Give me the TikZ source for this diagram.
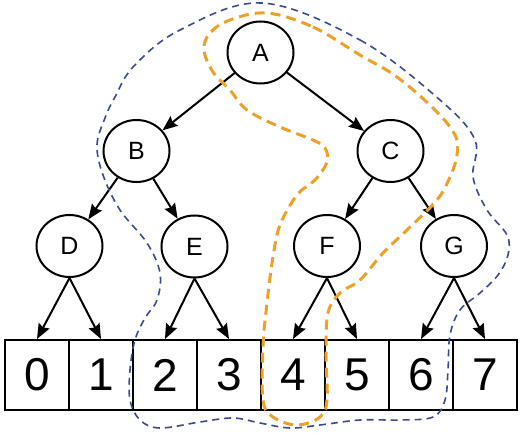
\documentclass[tikz,border=0pt]{standalone}
\usepackage{fontspec}
\setmainfont{Liberation Sans}
\usetikzlibrary{shapes.geometric,arrows.meta}
\definecolor{cblue}{HTML}{3C4A94}
\definecolor{corange}{HTML}{F0A028}
\begin{document}
\begin{tikzpicture}[x=1pt,y=-1pt,
  tnode/.style={ellipse,draw,line width=2pt,minimum width=66pt,minimum height=62pt,inner sep=0pt,font=\fontsize{25}{25}\selectfont},
  cell/.style={rectangle,draw,line width=2pt,minimum width=64pt,minimum height=70pt,inner sep=0pt,font=\fontsize{46}{46}\selectfont},
  edge/.style={line width=2pt,-{Stealth[length=15pt,width=12pt,inset=2pt]}},
  bluepath/.style={draw=cblue,line width=1.6pt,dash pattern=on 7pt off 5pt},
  orangepath/.style={draw=corange,line width=3pt,dash pattern=on 10pt off 6pt}
]
\useasboundingbox (0,0) rectangle (520,433);
\foreach \i in {0,...,7}{
  \node[cell] (c\i) at ({37+64*\i},375) {\i};
}
\node[tnode] (A) at (260.5,52.5) {A};
\node[tnode] (B) at (136.5,151) {B};
\node[tnode] (C) at (390.5,151) {C};
\node[tnode] (D) at (69.5,246) {D};
\node[tnode] (E) at (194.5,246.5) {E};
\node[tnode] (F) at (327,246) {F};
\node[tnode] (G) at (454,246) {G};
\draw[edge] (A) -- (B);
\draw[edge] (A) -- (C);
\draw[edge] (B) -- (D);
\draw[edge] (B) -- (E);
\draw[edge] (C) -- (F);
\draw[edge] (C) -- (G);
\draw[edge] (D.south) -- (c0.north);
\draw[edge] (D.south) -- (c1.north);
\draw[edge] (E.south) -- (c2.north);
\draw[edge] (E.south) -- (c3.north);
\draw[edge] (F.south) -- (c4.north);
\draw[edge] (F.south) -- (c5.north);
\draw[edge] (G.south) -- (c6.north);
\draw[edge] (G.south) -- (c7.north);
\draw[bluepath] plot[smooth cycle,tension=0.6] coordinates {
(262,3) (360,40) (440,100) (475,140) (473,177) (487,210) (507,235) (508,255) (498,275) (480,293) (460,310) (450,335) (448,370) (445,400) (433,417) (400,420) (360,420) (320,425) (290,428) (260,423) (233,418) (200,422) (160,428) (140,420) (130,400) (130,370) (135,340) (145,318) (157,300) (160,273) (147,243) (120,210) (103,175) (97,145) (105,118) (115,97) (134,66) (180,30)};
\draw[orangepath] plot[smooth cycle,tension=0.6] coordinates {
(267,13) (313,27) (360,55) (397,77) (435,110) (455,135) (457,155) (450,177) (437,200) (407,230) (383,253) (360,280) (340,293) (328,313) (326,353) (327,400) (320,417) (297,425) (273,417) (263,400) (263,347) (267,303) (273,257) (280,225) (297,195) (315,180) (327,162) (325,148) (313,140) (280,127) (247,110) (230,90) (213,72) (204,50) (210,33) (230,20)};
\end{tikzpicture}
\end{document}
